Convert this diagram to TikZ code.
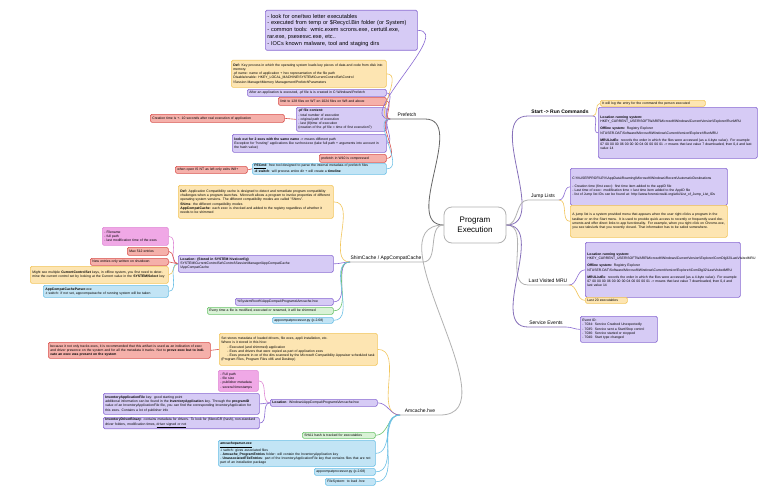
\documentclass[tikz,border=0pt]{standalone}
\usepackage{fontspec}
\setmainfont{Liberation Sans}
\definecolor{pf}{HTML}{D6CBF5}\definecolor{pd}{HTML}{8A6BD3}
\definecolor{yf}{HTML}{FDE5B2}\definecolor{yd}{HTML}{F2C65C}
\definecolor{rf}{HTML}{F5B0AA}\definecolor{rd}{HTML}{D9534F}
\definecolor{bf}{HTML}{C2E4F5}\definecolor{bd}{HTML}{6CC0E6}
\definecolor{gf}{HTML}{D9F2D6}\definecolor{gd}{HTML}{6CC46C}
\definecolor{kf}{HTML}{F0A8E6}\definecolor{kd}{HTML}{E08AD6}
\tikzset{
 bb/.style={rounded corners=1.5pt,line width=0.7pt,inner xsep=2pt,inner ysep=1pt,align=left,anchor=north west,font=\fontsize{3.4}{4.2}\selectfont},
 P/.style={bb,fill=pf,draw=pd}, Y/.style={bb,fill=yf,draw=yd}, R/.style={bb,fill=rf,draw=rd},
 B/.style={bb,fill=bf,draw=bd}, G/.style={bb,fill=gf,draw=gd}, K/.style={bb,fill=kf,draw=kd},
 lab/.style={font=\fontsize{5}{6}\selectfont,inner sep=1pt},
 br/.style={line width=0.8pt,draw=gray!60},
 cn/.style={line width=0.6pt},
}
\newcommand\bx[7]{\node[#6,text width={#4pt-4pt},minimum height=#5pt] (#1) at (#2,#3) {#7};}
\begin{document}
\begin{tikzpicture}[x=1pt,y=-1pt]
\useasboundingbox[fill=white] (0,0) rectangle (768,495);
\node[draw=gray!60,line width=0.8pt,fill=white,rounded corners=8pt,minimum width=62pt,minimum height=36pt,align=center,font=\fontsize{8}{9.5}\selectfont] (c) at (475,225) {Program\\Execution};
\node[lab] (pfl) at (407,115) {Prefetch};
\node[lab] (shl) at (386,258) {ShimCache / AppCompatCache};
\node[lab] (aml) at (420,411) {Amcache.hve};
\node[lab,font=\bfseries\fontsize{5}{6}\selectfont] (srl) at (560,112) {Start -> Run Commands};
\node[lab] (jll) at (543,196) {Jump Lists};
\node[lab] (mrl) at (548,281) {Last Visited MRU};
\node[lab] (sel) at (546,323) {Service Events};
\coordinate (pfa) at (390,119);\coordinate (pfb) at (425,119);
\coordinate (sha) at (350,262);\coordinate (shb) at (423,262);
\coordinate (ama) at (400,415);\coordinate (amb) at (440,415);
\coordinate (sra) at (528,116);\coordinate (srb) at (593,116);
\coordinate (jla) at (528,200);\coordinate (jlb) at (559,200);
\coordinate (mra) at (528,285);\coordinate (mrb) at (569,285);
\coordinate (sea) at (528,327);\coordinate (seb) at (566,327);
\draw[br,draw=gray!80!black] (c.west) to[out=180,in=0] (pfb) -- (pfa);
\draw[br] (c.west) to[out=180,in=0] (shb) -- (sha);
\draw[br] (c.west) to[out=180,in=0] (amb) -- (ama);
\draw[br,draw=pd!70!gray] (c.east) to[out=0,in=180] (sra) -- (srb);
\draw[br] (c.east) to[out=0,in=180] (jla) -- (jlb);
\draw[br] (c.east) to[out=0,in=180] (mra) -- (mrb);
\draw[br,draw=pd!70!gray] (c.east) to[out=0,in=180] (sea) -- (seb);
\node[bb,fill=pf,draw=pd,text width=148pt,minimum height=40pt,font=\fontsize{5.6}{6.8}\selectfont] (p0) at (265,10) {- look for one/two letter executables\\- executed from temp or \$Recycl.Bin folder (or System)\\- common tools: wmic.exem scrons.exe, certutil.exe, rar.exe, psexesvc.exe, etc..\\- IOCs known malware, tool and staging dirs};
\bx{p1}{231}{60}{155}{27}{Y}{\textbf{Def:} Key process in which the operating system loads key pieces of data and code from disk into memory.\\ .pf name: name of application + hex representation of the file path\\Disable/enable: HKEY\_LOCAL\_MACHINE\textbackslash SYSTEM\textbackslash CurrentControlSet\textbackslash Control\\\textbackslash Session Manager\textbackslash Memory Management\textbackslash PrefetchParameters}
\bx{p2}{247}{89}{139}{7}{P}{After an application is executed, .pf file is is created in C:\textbackslash Windows\textbackslash Prefetch}
\bx{p3}{278}{97}{108}{8}{R}{limit to 128 files on W7 en 1024 files on W8 and above}
\bx{p4}{296}{107}{90}{24}{P}{\textbf{.pf file content:}\\- total number of execution\\- original path of execution\\- last (8)time of execution\\(creation of the .pf file = time of first execution?)}
\bx{p5}{150}{114}{134}{8}{R}{Creation time is +- 10 seconds after real execution of application}
\bx{p6}{232}{134}{154}{18}{P}{\textbf{look out for 2 exes with the same name} -> means different path\\Exception for "hosting" applications like svchost.exe (take full path + arguments into account in the hash value)}
\bx{p7}{319}{154}{67}{8}{R}{prefetch in W10 is compressed}
\bx{p8}{252}{163}{134}{11}{B}{\underline{\textbf{PECmd}}: free tool designed to parse the internal metadata of prefetch files\\\textbf{-d switch}: will process entire dir + will create a \textbf{timeline}}
\bx{p9}{175}{166}{72}{7}{R}{when open IS NT as left only exits W8+}
\foreach \n/\k in {p0/pd,p1/yd,p2/pd,p3/rd,p4/pd,p6/pd,p7/rd,p8/bd}{\draw[cn,draw=\k] (pfa) to[out=180,in=0] (\n.east);}
\draw[cn,draw=rd] (p4.west) -- (p5.east);
\draw[cn,draw=rd] (p8.west) -- (p9.east);
\bx{s1}{178}{185}{155}{33}{Y}{\textbf{Def:} Application Compatibility cache is designed to detect and remediate program compatibility challenges when a program launches. Microsoft allows a program to invoke properties of different operating system versions. The different compatibility modes are called "Shims".\\\textbf{Shims}: the different compatibility modes\\\textbf{AppCompatCache}: each exec is checked and added to the registry regardless of whether it needs to be shimmed}
\bx{s2}{178}{255}{155}{17}{P}{\textbf{Location: (Stored in SYSTEM hive/config)}\\SYSTEM\textbackslash CurrentControlSet\textbackslash Control\textbackslash SessionManager\textbackslash AppCompatCache\\\textbackslash AppCompatCache}
\bx{s3}{235}{298}{98}{7}{P}{\%SystemRoot\%\textbackslash AppCompat\textbackslash Programs\textbackslash Amcache.hve}
\bx{s4}{207}{307}{126}{7}{G}{Every time a file is modified, executed or renamed, it will be shimmed}
\bx{s5}{272}{317}{61}{6}{B}{appcompatprocessor.py (p.2.68)}
\bx{s6}{102}{227}{66}{18}{K}{- Filename\\- full path\\- last modification time of the exes}
\bx{s7}{127}{247}{41}{8}{R}{Max 512 entries}
\bx{s8}{90}{258}{78}{7}{R}{New entries only written on shutdown}
\bx{s9}{30}{266}{138}{17}{Y}{Might see multiple \textbf{CurrentControlSet} keys, in offline system, you first need to determine the current control set by looking at the Current value in the \textbf{SYSTEM\textbackslash Select} key}
\bx{s10}{43}{285}{125}{12}{B}{\textbf{AppCompatCacheParser}.exe\\-t switch: if not set, appcompatcache of running system will be taken}
\foreach \n/\k in {s1/yd,s2/pd,s3/pd,s4/gd,s5/bd}{\draw[cn,draw=\k] (sha) to[out=180,in=0] (\n.east);}
\foreach \n/\k in {s6/kd,s7/rd,s8/rd,s9/yd,s10/bd}{\draw[cn,draw=\k] (s2.west) to[out=180,in=0] (\n.east);}
\bx{a1}{219}{333}{158}{32}{Y}{Set stores metadata of loaded drivers, file exes, appli installation, etc.\\Where is it stored in this hive:\\\hspace*{6pt}- Executed (and shimmed) application\\\hspace*{6pt}- Exes and drivers that were copied as part of application exes\\\hspace*{6pt}- Exes present in on of the dirs scanned by the Microsoft Compatibility Appraiser scheduled task (Program Files, Program Files x86 and Desktop)}
\bx{a2}{48}{342}{162}{16}{R}{because it not only tracks exes, it is recommended that this artifact is used as an indication of exec and driver presence on the system and for all the metadata it tracks. Not to \textbf{prove exec but to indicate an exec was present on the system}}
\bx{a3}{218}{370}{40}{21}{K}{- Full path\\- file size\\- publisher metadata\\- several timestamps}
\bx{a4}{270}{399}{107}{7}{P}{\textbf{Location}: Windows\textbackslash AppCompat\textbackslash Programs\textbackslash Amcache.hve}
\bx{a5}{103}{393}{156}{21}{P}{\textbf{InventoryApplicationFile} key: good starting point\\additional information can be found in the \textbf{InventoryApplication} key. Through the \textbf{programID} value of an InventoryApplicationFile file, you can find the corresponding InventoryApplication for this exes. Contains a lot of publisher info}
\bx{a6}{103}{417}{156}{11}{P}{\textbf{InventoryDriverBinary}: contains metadata for drivers. To look for (filenoGR (hash), non-standard driver folders, modification times, \underline{driver signed or not}}
\bx{a7}{302}{432}{73}{6}{G}{SHA1 hash is tracked for executables}
\bx{a8}{218}{440}{157}{26}{B}{\underline{\textbf{amcacheparser.exe}}\\-i switch: gives associated files\\- \textbf{Amcache\_ProgramEntries} folder: will contain the InventoryApplication key\\- \textbf{UnassociatedFileEntries}: part of the InventoryApplicationFile key that contains files that are not part of an installation package}
\bx{a9}{314}{468}{61}{7}{B}{appcompatprocessor.py (p.2.68)}
\bx{a10}{325}{478}{50}{7}{B}{FileSystem: to load .hve}
\foreach \n/\k in {a1/yd,a4/pd,a7/gd,a8/bd,a9/bd,a10/bd}{\draw[cn,draw=\k] (ama) to[out=180,in=0] (\n.east);}
\draw[cn,draw=rd] (a1.west) -- (a2.east);
\foreach \n/\k in {a3/kd,a5/pd,a6/pd}{\draw[cn,draw=\k] (a4.west) to[out=180,in=0] (\n.east);}
\bx{r1}{600}{100}{105}{6}{Y}{It will log the entry for the command the person executed}
\bx{r2}{598}{107}{159}{51}{P}{\textbf{Location running system:}\\HKEY\_CURRENT\_USER\textbackslash SOFTWARE\textbackslash Microsoft\textbackslash Windows\textbackslash CurrentVersion\textbackslash Explorer\textbackslash RunMRU\\[3pt]\textbf{Offline system:} Registry Explorer\\NTUSER.DAT\textbackslash Software\textbackslash Microsoft\textbackslash Windows\textbackslash CurrentVersion\textbackslash Explorer\textbackslash RunMRU\\[3pt]\textbf{MRUListEx}: records the order in which the files were accessed (as a 4-byte value). For example: 07 00 00 00 06 00 00 00 04 00 00 00 01 -> means that last value 7 downloaded, then 0,4 and last value 14}
\bx{r3}{570}{168}{157}{37}{P}{C:\textbackslash \%USERPROFILE\%\textbackslash AppData\textbackslash Roaming\textbackslash Microsoft\textbackslash Windows\textbackslash Recent\textbackslash AutomaticDestinations\\[3pt]- Creation time (first exec): first time item added to the appID file\\- Last time of exec: modification time = last time item added to the AppID file\\- list of Jump list IDs can be found at: http://www.forensicswiki.org/wiki/List\_of\_Jump\_List\_IDs}
\bx{r4}{570}{205}{157}{32}{Y}{A jump list is a system provided menu that appears when the user right clicks a program in the taskbar or on the Start menu. It is used to provide quick access to recently or frequently used documents and offer direct links to app functionality. For example, when you right click on Chrome.exe, you see tabs/urls that you recently closed. That information has to be safed somewhere.}
\bx{r5}{585}{242}{155}{55}{P}{\textbf{Location running system:}\\HKEY\_CURRENT\_USER\textbackslash SOFTWARE\textbackslash Microsoft\textbackslash Windows\textbackslash CurrentVersion\textbackslash Explorer\textbackslash ComDlg32\textbackslash LastVisitedMRU\\[3pt]\textbf{Offline system:} Registry Explorer\\NTUSER.DAT\textbackslash Software\textbackslash Microsoft\textbackslash Windows\textbackslash CurrentVersion\textbackslash Explorer\textbackslash ComDlg32\textbackslash LastVisitedMRU\\[3pt]\textbf{MRUListEx}: records the order in which the files were accessed (as a 4-byte value). For example: 07 00 00 00 06 00 00 00 04 00 00 00 01 -> means that last value 7 downloaded, then 0,4 and last value 14}
\bx{r6}{585}{297}{42}{6}{Y}{Last 20 executables}
\bx{r7}{580}{316}{77}{26}{P}{Event ID:\\- 7034: Service Crashed Unexpectedly\\- 7035: Service sent a Start/Stop control\\- 7036: Service started or stopped\\- 7040: Start type changed}
\foreach \n/\k in {r1/yd,r2/pd}{\draw[cn,draw=\k] (srb) to[out=0,in=180] (\n.west);}
\foreach \n/\k in {r3/pd,r4/yd}{\draw[cn,draw=\k] (jlb) to[out=0,in=180] (\n.west);}
\foreach \n/\k in {r5/pd,r6/yd}{\draw[cn,draw=\k] (mrb) to[out=0,in=180] (\n.west);}
\draw[cn,draw=pd] (seb) to[out=0,in=180] (r7.west);
\end{tikzpicture}
\end{document}
